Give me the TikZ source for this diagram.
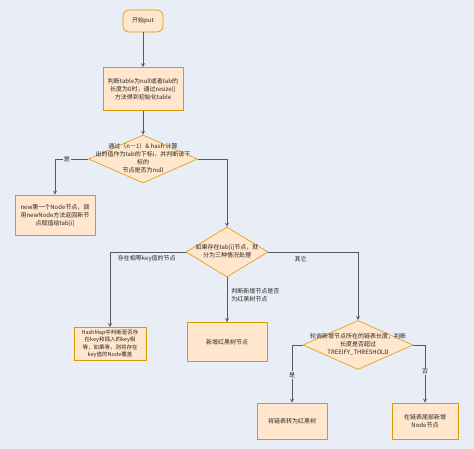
\documentclass[tikz,border=0pt]{standalone}
\usepackage{fontspec}
\setmainfont{Noto Sans CJK SC}
\usepackage{tikz}
\usetikzlibrary{arrows,shapes.geometric}
\definecolor{bgcol}{RGB}{232,237,246}
\definecolor{boxfill}{RGB}{255,230,204}
\definecolor{boxline}{RGB}{215,155,0}
\definecolor{linecol}{RGB}{80,90,105}
\definecolor{txtcol}{RGB}{40,40,40}
\tikzstyle{arrow} = [line width=0.8pt,draw=linecol,->,>=stealth]
\tikzstyle{box} = [rectangle,draw=boxline,fill=boxfill,line width=0.6pt,text=txtcol,align=center,inner sep=1pt]
\tikzstyle{decide} = [diamond,draw=boxline,fill=boxfill,line width=0.6pt,inner sep=0pt]
\tikzstyle{txt} = [text=txtcol,align=center,inner sep=0pt]
\tikzstyle{lbl} = [text=txtcol,fill=bgcol,inner sep=1pt]

\begin{document}
\begin{tikzpicture}[x=1pt,y=-1pt,font=\fontsize{6}{8}\selectfont]
	\fill[bgcol] (0,0) rectangle (474,449);
	% nodes
	\node (start) at (143,21) [box,rounded corners=6pt,minimum width=40pt,minimum height=22pt] {开始put};
	\node (init) at (143,89) [box,minimum width=80pt,minimum height=43pt] {判断table为null或者tab的\\长度为0时，通过resize()\\方法得到初始化table};
	\node (hashd) at (143,159) [decide,minimum width=109pt,minimum height=48pt] {};
	\node (hasht) at (143,158) [txt] {通过（n－1）\& hash 计算\\出的值作为tab的下标i，并判断该下\\标的\\节点是否为null};
	\node (newnode) at (55,215) [box,minimum width=80pt,minimum height=40pt] {new第一个Node节点，调\\用newNode方法返回新节\\点赋值给tab[i]};
	\node (exist) at (227,252) [decide,minimum width=82pt,minimum height=50pt] {};
	\node (existt) at (227,251) [txt] {如果存在tab[i]节点，就\\分为三种情况处理};
	\node (cover) at (110,344) [box,minimum width=72pt,minimum height=33pt,font=\fontsize{5.5}{7.5}\selectfont] {HashMap中判断是否存\\在key和插入的key相\\等，如果等，则将存在\\key值的Node覆盖};
	\node (rbnode) at (227,342) [box,minimum width=80pt,minimum height=39pt] {新增红黑树节点};
	\node (lend) at (358,345) [decide,minimum width=110pt,minimum height=49pt] {};
	\node (lent) at (358,344) [txt] {轮询新增节点所在的链表长度，判断\\长度是否超过\\TREEIFY\_THRESHOLD};
	\node (totree) at (292,421) [box,minimum width=70pt,minimum height=36pt] {将链表转为红黑树};
	\node (tail) at (425,421) [box,minimum width=66pt,minimum height=36pt] {在链表尾部新增\\Node节点};
	% connectors
	\draw [arrow] (start) -- (init);
	\draw [arrow] (init) -- (hashd);
	\draw [arrow] (hashd.west) -| node[lbl,pos=0.32] {是} (newnode.north);
	\draw [arrow] (hashd.east) -| (exist.north);
	\draw [arrow] (exist.west) -| node[txt,anchor=north west,pos=0.45,yshift=-3pt] {存在相等key值的节点} (cover.north);
	\draw [arrow] (exist.south) -- node[txt,anchor=west,pos=0.39,xshift=4pt,align=left] {判断新增节点是否\\为红黑树节点} (rbnode.north);
	\draw [arrow] (exist.east) -| node[txt,anchor=north,pos=0.18,yshift=-4pt] {其它} (lend.north);
	\draw [arrow] (lend.west) -| node[lbl,pos=0.76] {是} (totree.north);
	\draw [arrow] (lend.east) -| node[lbl,pos=0.73] {否} (tail.north);
\end{tikzpicture}
\end{document}
